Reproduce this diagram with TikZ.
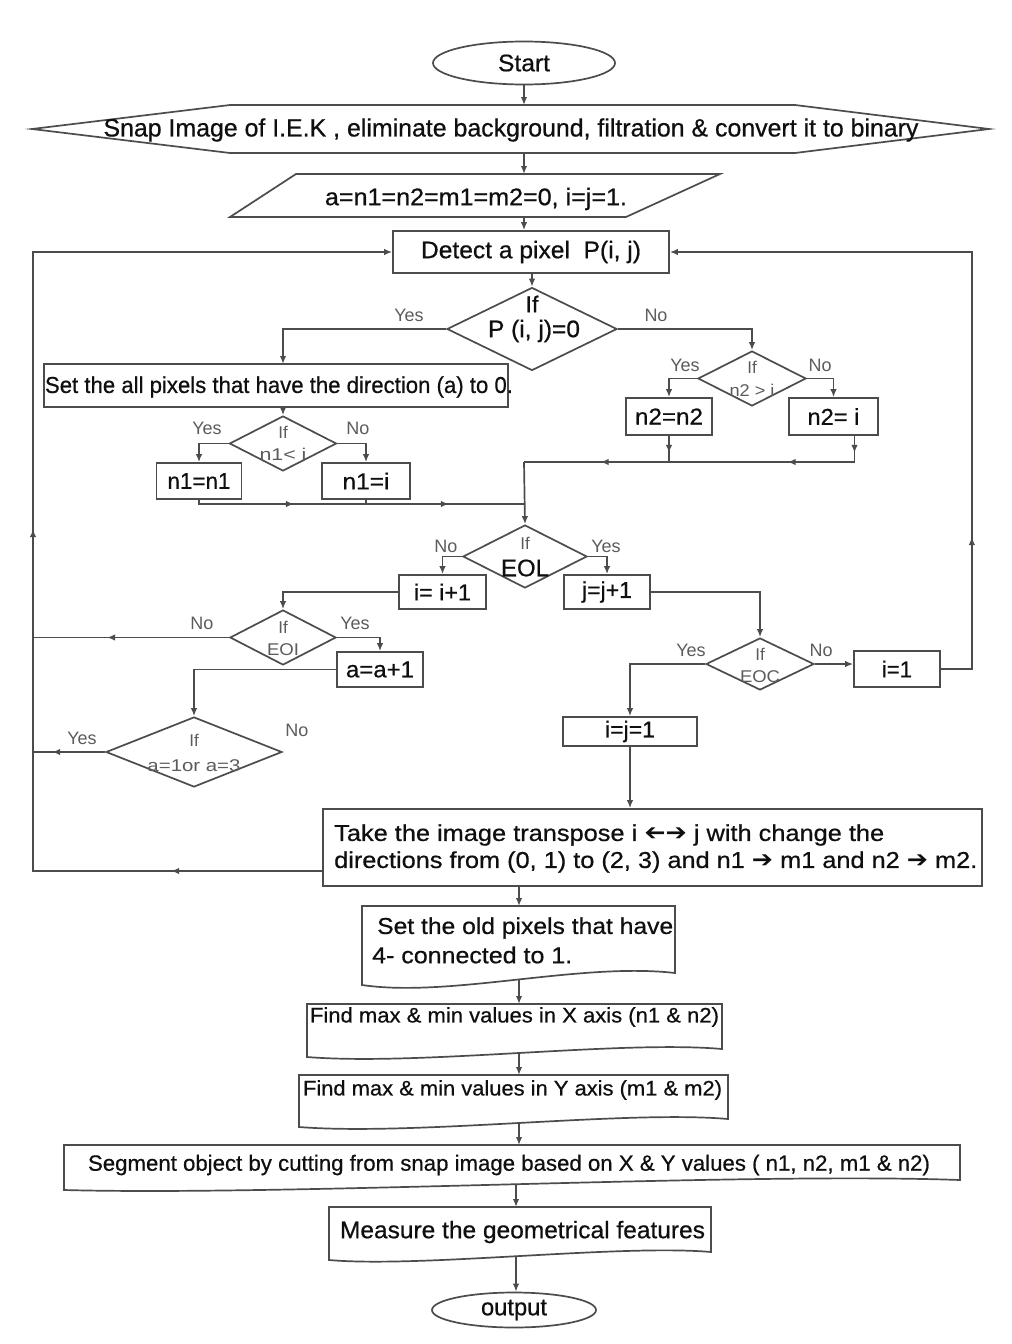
\documentclass[tikz,border=0pt]{standalone}
\usepackage{fontspec}
\setmainfont{Liberation Sans}
\newfontfamily\mf{Liberation Sans}[FakeBold=0.6]
\newfontfamily\djv{DejaVu Sans}
\usepackage{graphicx}
\usetikzlibrary{shapes.geometric,arrows.meta,decorations.markings}
\definecolor{ln}{gray}{0.3}
\definecolor{lb}{gray}{0.36}
\definecolor{tc}{gray}{0.06}
\newcommand{\tx}[3]{\resizebox{#2pt}{\height}{\mf\fontsize{#1pt}{#1pt}\selectfont #3}}
\newcommand{\gx}[3]{\resizebox{#2pt}{\height}{\fontsize{#1pt}{#1pt}\selectfont #3}}
\newcommand{\ft}[2]{{\fontsize{#1pt}{#1pt}\selectfont #2}}
\newcommand{\fb}[2]{{\mf\fontsize{#1pt}{#1pt}\selectfont #2}}
\newcommand{\arrR}{{\djv ➔}}
\newcommand{\arrL}{{\djv\reflectbox{➔}}}
\tikzset{
  tipA/.tip={Latex[length=8pt,width=6.5pt]},
  conn/.style={draw=ln, color=ln, line width=1.7pt},
  arr/.style={conn, -tipA},
  shp/.style={draw=ln, line width=1.7pt},
  box/.style={draw=ln, line width=1.7pt, rectangle, inner sep=0pt, text=tc},
  dia/.style={draw=ln, line width=1.7pt, diamond, inner sep=0pt},
  term/.style={draw=ln, line width=1.7pt, ellipse, inner sep=0pt, text=tc},
  txt/.style={inner sep=0pt, text=tc},
  gtx/.style={inner sep=0pt, text=lb},
  lab/.style={inner sep=0pt, text=lb},
  m1/.style={postaction={decorate,decoration={markings,
      mark=at position #1 with {\arrow{tipA}}}}},
  m2/.style 2 args={postaction={decorate,decoration={markings,
      mark=at position #1 with {\arrow{tipA}},
      mark=at position #2 with {\arrow{tipA}}}}},
  m3/.style n args={3}{postaction={decorate,decoration={markings,
      mark=at position #1 with {\arrow{tipA}},
      mark=at position #2 with {\arrow{tipA}},
      mark=at position #3 with {\arrow{tipA}}}}},
}
\begin{document}
\begin{tikzpicture}[x=1pt,y=-1pt]
\fill[white] (0,0) rectangle (1012,1344);
\useasboundingbox (0,0) rectangle (1012,1344);

% Start
\node[term, minimum width=182pt, minimum height=43pt] (start) at (524,63) {\tx{24}{52}{Start}};

% hexagon
\draw[shp] (32,129) -- (230,105) -- (795,105) -- (989,129) -- (795,153) -- (230,153) -- cycle;
\node[txt] (snap) at (511,130) {\tx{25}{815}{Snap Image of I.E.K , eliminate background, filtration \& convert it to binary}};
\coordinate (snapT) at (524,105);
\coordinate (snapB) at (524,153);
\draw[arr] (start.south) -- (snapT);

% parallelogram
\draw[shp] (230,217) -- (296,174) -- (720,174) -- (626,217) -- cycle;
\node[txt] (init) at (476,199) {\tx{24}{302}{a=n1=n2=m1=m2=0, i=j=1.}};
\coordinate (initT) at (524,174);
\coordinate (initB) at (524,217);
\draw[arr] (snapB) -- (initT);

% detect
\node[box, minimum width=276pt, minimum height=42pt] (detect) at (531,252) {\tx{24}{220}{Detect a pixel\ \ P(i, j)}};
\draw[arr] (initB) -- (initB |- detect.north);

% P diamond
\node[dia, minimum width=170pt, minimum height=83pt] (dP) at (532,329) {};
\node[txt] (dPif) at (532,304) {\fb{23}{If}};
\node[txt] (dPt) at (534,331) {\tx{24}{92}{P (i, j)=0}};
\draw[arr] (detect.south -| dP.north) -- (dP.north);
\node[lab] (yP) at (409,315) {\ft{18}{Yes}};
\node[lab] (nP) at (656,315) {\ft{18}{No}};

% set all
\node[box, minimum width=464pt, minimum height=43pt] (setall) at (276,385.5) {};
\node[txt] (setallT) at (279,387) {\tx{23}{468}{Set the all pixels that have the direction (a) to 0.}};
\coordinate (setIn) at (283,364);
\draw[arr] (dP.west) -| (setIn);

% n1 diamond
\node[dia, minimum width=107pt, minimum height=55pt] (dn1) at (283,443.5) {};
\node[gtx] (dn1if) at (283,432) {\ft{17}{If}};
\node[gtx] (dn1t) at (283,454) {\gx{17}{47}{n1< i}};
\draw[arr] (setall.south -| dn1.north) -- (dn1.north);
\node[lab] (yn1) at (207,428) {\ft{18}{Yes}};
\node[lab] (nn1) at (358,428) {\ft{18}{No}};
\node[box, minimum width=85pt, minimum height=36pt] (n1a) at (199,481) {\tx{23}{63}{n1=n1}};
\node[box, minimum width=88pt, minimum height=36pt] (n1b) at (366,481) {\tx{23}{47}{n1=i}};
\draw[arr] (dn1.west) -| (n1a.north);
\draw[arr] (dn1.east) -| (n1b.north);
\coordinate (j1) at (524,504);
\draw[conn, m2={99pt}{254pt}] (n1a.south) |- (j1);
\draw[conn] (n1b.south) -- (n1b.south |- j1);

% n2 diamond
\node[dia, minimum width=108pt, minimum height=55pt] (dn2) at (752,378.5) {};
\node[gtx] (dn2if) at (752,367) {\ft{17}{If}};
\node[gtx] (dn2t) at (752,390) {\gx{17}{45}{n2 > i}};
\draw[arr] (dP.east) -| (dn2.north);
\node[lab] (yn2) at (685,365) {\ft{18}{Yes}};
\node[lab] (nn2) at (820,365) {\ft{18}{No}};
\node[box, minimum width=86pt, minimum height=37pt] (n2a) at (669,416.5) {\tx{23}{68}{n2=n2}};
\node[box, minimum width=89pt, minimum height=37pt] (n2b) at (833.5,416.5) {\tx{23}{52}{n2= i}};
\draw[arr] (dn2.west) -| (n2a.north);
\draw[arr] (dn2.east) -| (n2b.north);
\coordinate (j2) at (524,462);
\draw[conn, m1=17pt] (n2a.south) -- (n2a.south |- j2);
\draw[conn, m3={17pt}{93pt}{280pt}] ([xshift=21pt]n2b.south) |- (j2);

% EOL
\node[dia, minimum width=124pt, minimum height=63pt] (dEOL) at (525,556.5) {};
\node[gtx] (dEOLif) at (525,543) {\ft{17}{If}};
\node[txt] (dEOLt) at (525,568) {\tx{24}{48}{EOL}};
\draw[arr] (j2) -- (dEOL.north);
\node[lab] (nEOL) at (446,546) {\ft{18}{No}};
\node[lab] (yEOL) at (606,546) {\ft{18}{Yes}};
\node[box, minimum width=87pt, minimum height=34pt] (inci) at (442.5,592) {\tx{23}{57}{i= i+1}};
\node[box, minimum width=86pt, minimum height=34pt] (incj) at (607,592) {\tx{23}{50}{j=j+1}};
\draw[arr] (dEOL.west) -| (inci.north);
\draw[arr] (dEOL.east) -| (incj.north);

% EOI
\node[dia, minimum width=106pt, minimum height=55pt] (dEOI) at (283,637.5) {};
\node[gtx] (dEOIif) at (283,627) {\ft{17}{If}};
\node[gtx] (dEOIt) at (283,650) {\gx{17}{32}{EOI}};
\node[lab] (nEOI) at (202,623) {\ft{18}{No}};
\node[lab] (yEOI) at (355,623) {\ft{18}{Yes}};
\draw[arr] (inci.west) -| (dEOI.north);
\node[box, minimum width=86pt, minimum height=35pt] (ainc) at (380,669.5) {\tx{23}{68}{a=a+1}};
\draw[arr] (dEOI.east) -| (ainc.north);
\coordinate (l1) at (33,637.5);
\draw[conn, m1=122pt] (dEOI.west) -- (l1);

% a diamond
\node[dia, minimum width=176pt, minimum height=70pt] (dA) at (194,752) {};
\node[gtx] (dAif) at (194,740) {\ft{17}{If}};
\node[gtx] (dAt) at (194,766) {\gx{17}{93}{a=1or a=3}};
\node[lab] (yA) at (82,738) {\ft{18}{Yes}};
\node[lab] (nA) at (297,730) {\ft{18}{No}};
\draw[arr] (ainc.west) -| (dA.north);
\coordinate (l2) at (33,752);
\draw[conn, m1=53pt] (dA.west) -- (l2);

% EOC
\node[dia, minimum width=108pt, minimum height=52pt] (dEOC) at (760,664) {};
\node[gtx] (dEOCif) at (760,654) {\ft{17}{If}};
\node[gtx] (dEOCt) at (760,677) {\gx{17}{40}{EOC}};
\node[lab] (yEOC) at (691,650) {\ft{18}{Yes}};
\node[lab] (nEOC) at (821,650) {\ft{18}{No}};
\draw[arr] (incj.east) -| (dEOC.north);
\node[box, minimum width=86pt, minimum height=36pt] (ione) at (897,669) {\tx{23}{30}{i=1}};
\draw[arr] (dEOC.east) -- (dEOC.east -| ione.west);
\draw[arr, m1=163pt] (ione.east) -- ++(31,0) |- (detect.east);
\node[box, minimum width=134pt, minimum height=29pt] (ij1) at (630,731.5) {\tx{23}{50}{i=j=1}};
\draw[arr] (dEOC.west) -| (ij1.north);

% transpose
\node[box, minimum width=659pt, minimum height=77pt] (trans) at (652.5,847.5) {};
\node[txt, anchor=west] (tr1) at (334,835) {\tx{23}{550}{Take the image transpose i \arrL\arrR{} j with change the}};
\node[txt, anchor=west] (tr2) at (334,862) {\tx{23}{643}{directions from (0, 1) to (2, 3) and n1 \arrR{} m1 and n2 \arrR{} m2.}};
\draw[arr] (ij1.south) -- (ij1.south |- trans.north);
\coordinate (lc) at (33,252);
\draw[arr, m2={151pt}{631pt}] ([yshift=-23.5pt]trans.west) -| (lc) -- (detect.west);

% set old pixels
\draw[shp] (362,906) -- (675,906) -- (675,973) .. controls (580,962) and (450,998) .. (362,985) -- cycle;
\node[txt, anchor=west] (so1) at (377,928) {\tx{23}{296}{Set the old pixels that have}};
\node[txt, anchor=west] (so2) at (372,955) {\tx{23}{200}{4- connected to 1.}};
\coordinate (soT) at (519,906);
\coordinate (soB) at (519,980);
\draw[arr] (trans.south -| soT) -- (soT);

% find X
\draw[shp] (307,1004) -- (722,1004) -- (722,1049) .. controls (620,1040) and (420,1066) .. (307,1057) -- cycle;
\node[txt] (fx) at (514.5,1017) {\tx{21}{409}{Find max \& min values in X axis (n1 \& n2)}};
\coordinate (fxT) at (519,1004);
\coordinate (fxB) at (519,1053);
\draw[arr] (soB) -- (fxT);

% find Y
\draw[shp] (299,1075) -- (728,1075) -- (728,1119) .. controls (625,1110) and (415,1136) .. (299,1127) -- cycle;
\node[txt] (fy) at (512.5,1090) {\tx{21}{419}{Find max \& min values in Y axis (m1 \& m2)}};
\coordinate (fyT) at (519,1075);
\coordinate (fyB) at (519,1123);
\draw[arr] (fxB) -- (fyT);

% segment
\draw[shp] (64,1145) -- (960,1145) -- (960,1180) .. controls (740,1172) and (290,1196) .. (64,1190) -- cycle;
\node[txt] (seg) at (509,1165) {\tx{22}{842}{Segment object by cutting from snap image based on X \& Y values ( n1, n2, m1 \& n2)}};
\coordinate (sgT) at (519,1145);
\coordinate (sgB) at (516,1184);
\draw[arr] (fyB) -- (sgT);

% measure
\draw[shp] (329,1207) -- (711,1207) -- (711,1252) .. controls (620,1244) and (420,1268) .. (329,1260) -- cycle;
\node[txt] (meas) at (522.5,1232) {\tx{24}{365}{Measure the geometrical features}};
\coordinate (msT) at (516,1207);
\coordinate (msB) at (516,1256);
\draw[arr] (sgB) -- (msT);

% output
\node[term, minimum width=164pt, minimum height=35pt] (out) at (514,1310) {\tx{24}{66}{output}};
\draw[arr] (msB) -- (msB |- out.north);
\end{tikzpicture}
\end{document}
